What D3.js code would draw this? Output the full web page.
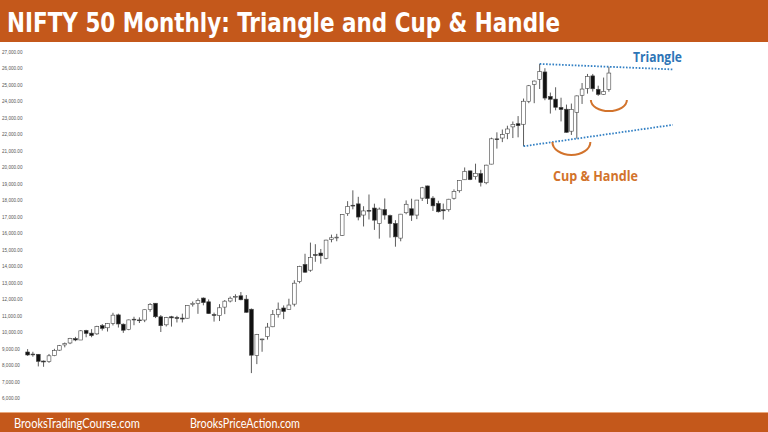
<!DOCTYPE html>
<html><head><meta charset="utf-8">
<script src="https://cdn.jsdelivr.net/npm/d3@7"></script>
<style>body{margin:0;background:#fff}svg{display:block}</style>
</head><body>
<svg id="c" width="768" height="432"></svg>
<script>
// ---- data (NIFTY 50 monthly, Sep 2016 – Oct 2025) ----
const firstMonth = "2016-09";
const opens  = [8793,8666,8654,8244,8210,8570,8905,9221,9339,9605,9520,10101,9937,9893,10390,10263,
 10532,11044,10479,10151,10783,10738,10732,11360,11752,10930,10442,10930,
 10881,10851,10843,11665,11726,12066,11840,11060,11001,11516,11886,12138,
 12202,12000,11388,8584,9533,9726,10323,11057,11464,11364,11697,13062,
 14104,13758,14702,14798,14481,15630,15755,15875,17186,17700,17783,17104,
 17388,17529,16593,17437,17069,16594,15704,17244,17486,17102,18130,18871,
 18131,17811,17428,17427,18124,18579,19246,19785,19433,19622,19064,20195,
 21727,21780,22049,22455,22648,22614,24009,25030,25333,25789,24304,24140,
 23637,23528,22194,23342,24374,24787,25551,24734,24432,24729];
const highs  = [8968,8806,8670,8275,8672,8983,9219,9368,9650,9709,10115,10138,10179,10384,10490,10553,
 11172,11118,10526,10760,10930,10893,11366,11760,11752,11035,10922,10985,
 10987,11119,11630,11856,12041,12103,11982,11181,11695,11945,12159,12294,
 12430,12246,11433,9889,9598,10554,11341,11794,11618,12025,13145,14024,
 14754,15432,15336,15044,15606,15915,15962,17153,17947,18604,18210,17639,
 18351,17794,17559,18115,17132,16794,17172,17992,18096,18022,18816,18887,
 18251,17972,17800,18089,18662,19201,19992,19795,20222,19849,20158,21801,
 22124,22297,22526,22783,23111,24174,24999,25268,26277,26014,24538,24858,
 24226,23808,23870,24365,25116,25669,25669,24956,25448,26104];
const lows   = [8555,8506,7916,7893,8133,8537,8860,9075,9269,9448,9544,9686,9688,9831,10094,10034,
 10404,10277,9952,10112,10418,10551,10605,11235,10850,10005,10342,10334,
 10584,10586,10817,11549,11108,11626,11107,10637,10671,11090,11802,11832,
 11930,11175,7511,8056,8807,9544,10299,10882,10790,11347,11557,12962,
 13597,13662,14265,14151,14417,15450,15514,15835,17055,17452,16782,16410,
 16836,16203,15671,16825,15736,15183,15511,17154,16748,16855,17960,17774,
 17353,17256,16828,17312,18042,18464,19234,19224,19255,18837,18974,20184,
 21137,21530,21710,21777,21821,21281,23893,23894,24754,24073,23263,23460,
 22787,22105,21965,21744,23847,24474,24599,24337,24404,24588];
const closes = [8611,8626,8224,8186,8561,8880,9174,9304,9621,9521,10077,9918,9789,10335,10227,10531,
 11028,10493,10114,10739,10736,10714,11357,11681,10930,10387,10877,10863,
 10831,10793,11624,11748,11923,11789,11118,11023,11474,11877,12056,12168,
 11962,11202,8598,9860,9580,10302,11073,11388,11248,11642,12969,13982,
 13635,14529,14691,14631,15583,15722,15763,17132,17618,17672,16983,17354,
 17340,16794,17465,17103,16585,15780,17158,17759,17094,18012,18758,18105,
 17662,17304,17360,18065,18534,19189,19754,19254,19638,19080,20133,21731,
 21726,21983,22327,22605,22531,24011,24951,25236,25811,24205,24131,23645,
 23508,22125,23519,24335,24751,25517,24768,24427,24611,25722];
const yTickValues = [6000,7000,8000,9000,10000,11000,12000,13000,14000,15000,16000,17000,18000,19000,20000,21000,22000,23000,24000,25000,26000,27000];
const xTickLabels = ["2017","Jul","2018","Jul","2019","Jul","2020","Jul","2021","Jul","2022","Jul","2023","Jul","2024","Jul","2025","Jul","2026","Jul","2027"];
const titleText = "NIFTY 50 Monthly: Triangle and Cup & Handle";
const footerTexts = ["BrooksTradingCourse.com","BrooksPriceAction.com"];

// ---- build ----
const parse = d3.timeParse("%Y-%m");
const start = parse(firstMonth);
const candles = opens.map((o,i)=>({date:d3.timeMonth.offset(start,i),o,h:highs[i],l:lows[i],c:closes[i]}));

const svg = d3.select("#c");
const orange = "#C4581B";
const x = d3.scaleTime().domain([new Date(2017,0,1), new Date(2026,0,1)]).range([49,625]);
const y = d3.scaleLinear().domain([6000,27000]).range([398,52]);

// header
svg.append("rect").attr("x",0).attr("y",0).attr("width",768).attr("height",42).attr("fill",orange);
svg.append("text").attr("x",7).attr("y",32).text(titleText)
  .attr("fill","#fff").attr("font-family","'Liberation Sans Narrow','DejaVu Sans Condensed',Arial,sans-serif")
  .attr("font-weight","bold").attr("font-size",27).attr("textLength",553).attr("lengthAdjust","spacingAndGlyphs");

// footer
svg.append("rect").attr("x",0).attr("y",413).attr("width",768).attr("height",19).attr("fill",orange);
svg.append("rect").attr("x",0).attr("y",412).attr("width",768).attr("height",1).attr("fill","#E9A77C");
const fx = [[14,126],[190,110]];
footerTexts.forEach((t,i)=>{
  svg.append("text").attr("x",fx[i][0]).attr("y",428).text(t).attr("fill","#fff")
   .attr("font-family","Lato,'Open Sans',sans-serif").attr("font-size",14)
   .attr("textLength",fx[i][1]).attr("lengthAdjust","spacingAndGlyphs");
});

// y axis labels
const yAxis = d3.axisLeft(y).tickValues(yTickValues).tickSize(0).tickPadding(0).tickFormat(d3.format(",.2f"));
const gy = svg.append("g").attr("transform","translate(2,0)").call(yAxis);
gy.select(".domain").remove();
gy.selectAll("text").attr("text-anchor","start").attr("x",0).attr("dy","0.32em")
  .attr("font-family","'Liberation Sans',Arial,sans-serif").attr("font-size",4.6).attr("fill","#555");

// x axis labels
svg.append("clipPath").attr("id","xc").append("rect").attr("x",0).attr("y",395).attr("width",689).attr("height",20);
const xTicks = d3.timeMonth.every(6).range(new Date(2017,0,1), new Date(2027,0,2));
const xAxis = d3.axisBottom(x).tickValues(xTicks).tickSize(0).tickPadding(0).tickFormat((d,i)=>xTickLabels[i]);
const gx = svg.append("g").attr("transform","translate(0,406)").attr("clip-path","url(#xc)").call(xAxis);
gx.select(".domain").remove();
gx.selectAll("text").attr("font-family","'Liberation Sans',Arial,sans-serif").attr("font-size",4.6).attr("fill","#555");

// candles
const bw = 3.8;
const g = svg.append("g");
g.selectAll("line.w").data(candles).join("line")
  .attr("x1",d=>x(d.date)).attr("x2",d=>x(d.date)).attr("y1",d=>y(d.h)).attr("y2",d=>y(d.l))
  .attr("stroke","#333").attr("stroke-width",0.8);
g.selectAll("rect.b").data(candles).join("rect")
  .attr("x",d=>x(d.date)-bw/2).attr("width",bw)
  .attr("y",d=>y(Math.max(d.o,d.c))).attr("height",d=>Math.max(0.8,Math.abs(y(d.o)-y(d.c))))
  .attr("fill",d=>d.c>=d.o?"#fff":"#111").attr("stroke","#444").attr("stroke-width",0.6);

// triangle lines
const blue = "#3380C4";
function extLine(d1,p1,d2,p2,dEnd){
  const x1=x(d1),y1=y(p1),x2=x(d2),y2=y(p2),xe=x(dEnd);
  return [x1,y1,xe,y1+(y2-y1)*(xe-x1)/(x2-x1)];
}
const cEnd = new Date(2026,9,1);
const up = extLine(candles[96].date,candles[96].h,candles[109].date,candles[109].h,cEnd);
const lo = extLine(candles[93].date,candles[93].l,candles[103].date,candles[103].l,cEnd);
[up,lo].forEach(L=>{
  svg.append("line").attr("x1",L[0]).attr("y1",L[1]).attr("x2",L[2]).attr("y2",L[3])
   .attr("stroke",blue).attr("stroke-width",1.8).attr("stroke-dasharray","1.6,1.6");
});
svg.append("text").attr("x",633).attr("y",62).text("Triangle").attr("fill","#2E75B6")
  .attr("font-family","'Open Sans',Lato,sans-serif").attr("font-weight","bold").attr("font-size",14)
  .attr("textLength",49).attr("lengthAdjust","spacingAndGlyphs");

// cup & handle arcs
const arcOrange = "#D2732C";
function arc(date,price,rx,ry){
  const cx=x(date),cy=y(price);
  return `M${cx-rx},${cy} A${rx},${ry} 0 0 0 ${cx+rx},${cy}`;
}
svg.append("path").attr("d",arc(new Date(2025,2,1),21540,19,13)).attr("fill","none").attr("stroke",arcOrange).attr("stroke-width",2);
svg.append("path").attr("d",arc(new Date(2025,9,1),24087,18,11)).attr("fill","none").attr("stroke",arcOrange).attr("stroke-width",2);
svg.append("text").attr("x",553).attr("y",181).text("Cup & Handle").attr("fill",arcOrange)
  .attr("font-family","'Open Sans',Lato,sans-serif").attr("font-weight","bold").attr("font-size",14)
  .attr("textLength",85).attr("lengthAdjust","spacingAndGlyphs");
</script>
</body></html>
